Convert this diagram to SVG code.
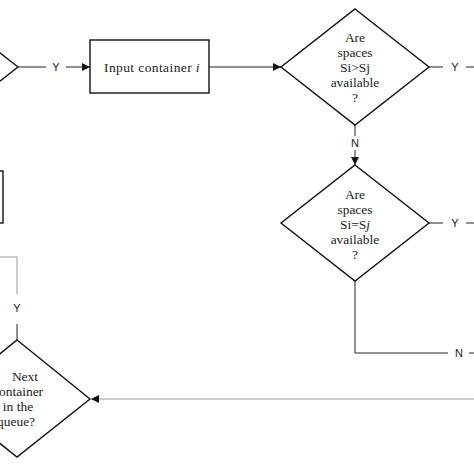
<svg xmlns="http://www.w3.org/2000/svg" width="474" height="474" viewBox="0 0 474 474">
<style>
.shape{fill:#fff;stroke:#111;stroke-width:1.4}
.ln{fill:none;stroke:#222;stroke-width:1}
.gl{fill:none;stroke:#999;stroke-width:1}
.t{font-family:"Liberation Serif",serif;font-size:13.5px;fill:#222;text-anchor:middle}
.lb{font-family:"Liberation Sans",sans-serif;font-size:11px;fill:#222;text-anchor:middle}
</style>
<defs>
<marker id="ah" markerWidth="8" markerHeight="8" refX="8" refY="4" orient="auto" markerUnits="userSpaceOnUse">
<path d="M0,0 L8,4 L0,8 Z" fill="#111"/>
</marker>
</defs>
<rect width="474" height="474" fill="#fff"/>
<g id="connectors">
<line class="ln" x1="18" y1="67" x2="46" y2="67"/>
<text class="lb" x="56" y="71">Y</text>
<line class="ln" x1="66" y1="67" x2="90" y2="67" marker-end="url(#ah)"/>
<line class="ln" x1="209" y1="67" x2="281" y2="67" marker-end="url(#ah)"/>
<line class="ln" x1="429" y1="67" x2="443" y2="67"/>
<text class="lb" x="455" y="71">Y</text>
<line class="ln" x1="466" y1="67" x2="474" y2="67"/>
<line class="ln" x1="355" y1="125" x2="355" y2="136"/>
<text class="lb" x="355" y="147">N</text>
<line class="ln" x1="355" y1="150" x2="355" y2="165" marker-end="url(#ah)"/>
<line class="ln" x1="429" y1="223" x2="443" y2="223"/>
<text class="lb" x="455" y="227">Y</text>
<line class="ln" x1="466" y1="223" x2="474" y2="223"/>
<polyline class="ln" points="355,281 355,353 448,353"/>
<text class="lb" x="459" y="357">N</text>
<line class="ln" x1="469" y1="353" x2="474" y2="353"/>
<line class="gl" x1="474" y1="399" x2="91" y2="399" marker-end="url(#ah)"/>
<polyline class="gl" points="0,257 17,257 17,294"/>
<text class="lb" x="17" y="312">Y</text>
<line class="ln" x1="17" y1="324" x2="17" y2="340"/>
</g>
<g id="node-left-diamond">
<polygon class="shape" points="18,67 -56,9 -130,67 -56,125"/>
</g>
<g id="node-left-box">
<rect class="shape" x="-100" y="171" width="103" height="52"/>
</g>
<g id="node-input">
<rect class="shape" x="90" y="40" width="119" height="53"/>
<text class="t" x="152" y="72" letter-spacing="0.4">Input container <tspan font-style="italic">i</tspan></text>
</g>
<g id="node-d1">
<polygon class="shape" points="355,9 429,67 355,125 281,67"/>
<text class="t" x="355" y="42">Are</text>
<text class="t" x="355" y="57">spaces</text>
<text class="t" x="355" y="72">Si&gt;Sj</text>
<text class="t" x="355" y="87">available</text>
<text class="t" x="355" y="102">?</text>
</g>
<g id="node-d2">
<polygon class="shape" points="355,165 429,223 355,281 281,223"/>
<text class="t" x="355" y="199">Are</text>
<text class="t" x="355" y="214">spaces</text>
<text class="t" x="355" y="229">Si=S<tspan font-style="italic">j</tspan></text>
<text class="t" x="355" y="244">available</text>
<text class="t" x="355" y="259">?</text>
</g>
<g id="node-next">
<polygon class="shape" points="17,340 90,399 17,457 -56,399"/>
<text class="t" x="25" y="381">Next</text>
<text class="t" x="18" y="396">container</text>
<text class="t" x="18" y="411">in the</text>
<text class="t" x="16" y="426">queue?</text>
</g>
</svg>
